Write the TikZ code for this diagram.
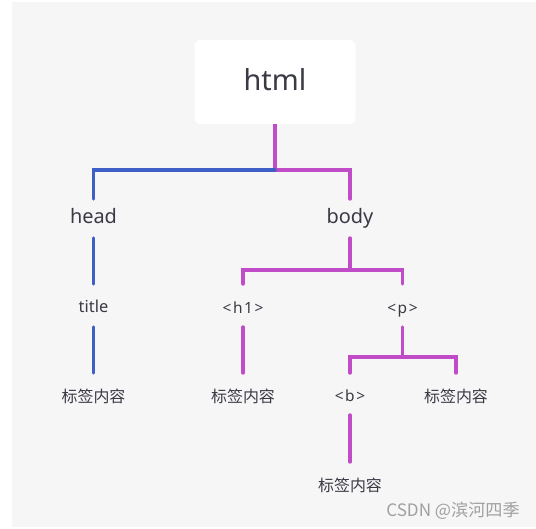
\documentclass[tikz,border=0pt]{standalone}
\usepackage{fontspec}
\setmainfont{Noto Sans}
\newfontfamily\cjkf{Noto Sans CJK SC}
\newfontfamily\tagf[LetterSpace=10]{Noto Sans}
\definecolor{bgc}{HTML}{F6F6F6}
\definecolor{txt}{HTML}{3A3A45}
\definecolor{bl}{HTML}{3F5FC6}
\definecolor{pk}{HTML}{C04CC8}
\definecolor{wm}{HTML}{A0A0A0}
\begin{document}
\begin{tikzpicture}[x=1bp,y=-1bp,
  lbl/.style={inner sep=0pt,text depth=0pt,anchor=center,text=txt},
  latin/.style={lbl,text height=14.4bp,font=\fontsize{20}{24}\selectfont},
  small/.style={lbl,text height=11.8bp,font=\fontsize{16.5}{19}\selectfont},
  tagn/.style={lbl,text height=11.2bp,font=\tagf\fontsize{15.5}{19}\selectfont},
  leaf/.style={lbl,text height=12.5bp,font=\cjkf\fontsize{16}{19}\selectfont},
  blue line/.style={draw=bl,line width=3.4bp,line cap=round},
  pink line/.style={draw=pk,line width=3.4bp,line cap=round}]
\useasboundingbox (0,0) rectangle (536,529);
\fill[white] (0,0) rectangle (536,529);
\fill[bgc] (12,2) rectangle (536,527);
% nodes
\node[fill=white,rounded corners=6bp,minimum width=161bp,minimum height=84bp,inner sep=0pt] (html) at (275,82) {};
\node[lbl,text height=21bp,font=\fontsize{29}{34}\selectfont] (htmltxt) at (275,80) {html};
\node[latin] (head) at (93.5,216) {head};
\node[latin] (body) at (350,216) {body};
\node[small] (title) at (93.5,307) {title};
\node[tagn] (h1) at (243,308) {<h1>};
\node[tagn] (p) at (402.5,308) {<p>};
\node[leaf] (l1) at (93.5,396) {标签内容};
\node[leaf] (l2) at (243,396) {标签内容};
\node[tagn] (b) at (350,396) {<b>};
\node[leaf] (l3) at (456,396) {标签内容};
\node[leaf] (l4) at (350,485) {标签内容};
\node[inner sep=0pt,text=wm,font=\cjkf\fontsize{17.2}{20}\selectfont] (wmk) at (453,511) {CSDN @滨河四季};
% junctions
\coordinate (j1) at (275,170);
\coordinate (j2) at (350,270);
\coordinate (j3) at (402.5,357);
% connectors
\draw[pink line,line cap=butt] (html.south) -- (j1);
\draw[pink line] (j1) -| ([yshift=17bp]body.center);
\draw[blue line] (j1) -| ([yshift=17bp]head.center);
\draw[blue line] ([yshift=-22bp]head.center) -- ([yshift=23bp]title.center);
\draw[blue line] ([yshift=-20bp]title.center) -- ([yshift=23bp]l1.center);
\draw[pink line] ([yshift=-22bp]body.center) -- (j2);
\draw[pink line] (j2) -| ([yshift=24bp]h1.center);
\draw[pink line] (j2) -| ([yshift=24bp]p.center);
\draw[pink line] ([yshift=-19bp]h1.center) -- ([yshift=23bp]l2.center);
\draw[pink line] ([yshift=-19bp]p.center) -- (j3);
\draw[pink line] (j3) -| ([yshift=23bp]b.center);
\draw[pink line] (j3) -| ([yshift=23bp]l3.center);
\draw[pink line] ([yshift=-19bp]b.center) -- ([yshift=23bp]l4.center);
\end{tikzpicture}
\end{document}
